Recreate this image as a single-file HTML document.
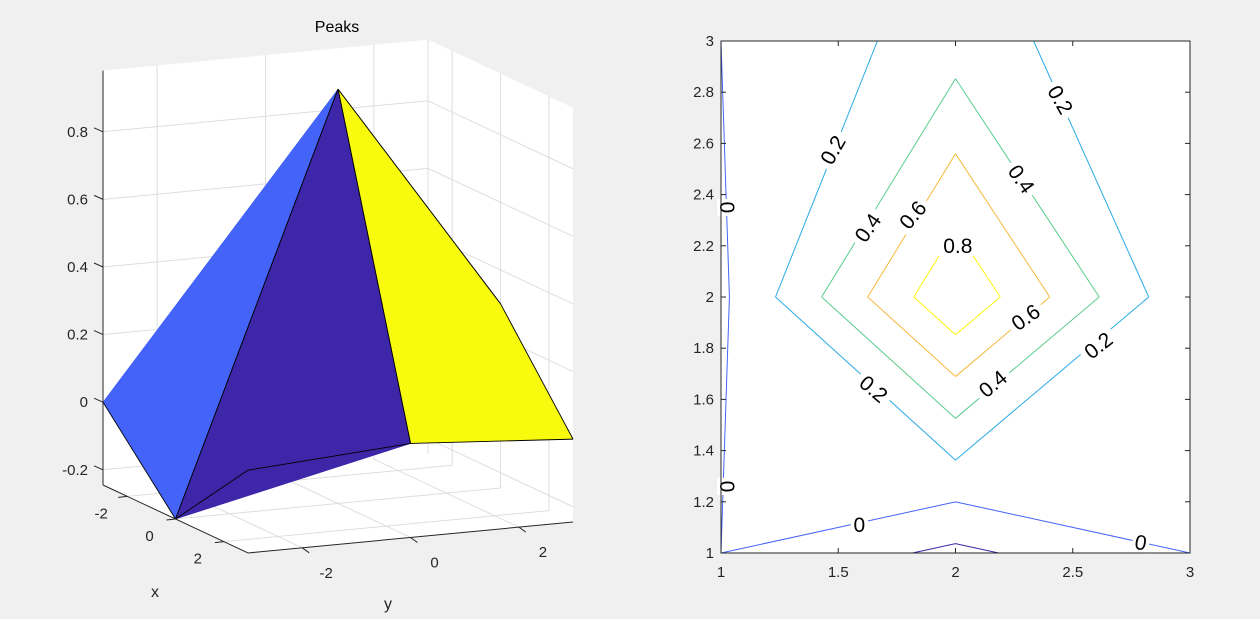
<!DOCTYPE html>
<html><head><meta charset="utf-8"><style>
html,body{margin:0;padding:0;background:#f0f0f0;}
svg{display:block;font-family:"Liberation Sans",sans-serif;}
</style></head><body>
<svg id="fig" width="1260" height="619" viewBox="0 0 1260 619" xmlns="http://www.w3.org/2000/svg">
<rect x="0" y="0" width="1260" height="619" fill="#f0f0f0"/>
<g id="left"></g>
<g id="right"></g>
</svg>
<script>
// ---- data ----
const gridX = [-3, 0, 3];
const gridY = [-3, 0, 3];
const zRowYm3 = [1.0e-4, -0.2450, -6e-6];
const zRowY0 = [-0.0365, 0.9810, 0.0331];
const zRowY3 = [3.2e-5, 0.2999, 4.1e-5];
const Z = [zRowYm3, zRowY0, zRowY3];
const xTicks3d = [-2, 0, 2];
const yTicks3d = [-2, 0, 2];
const zTicks3d = [-0.2, 0, 0.2, 0.4, 0.6, 0.8];
const zTickLabels = ["-0.2", "0", "0.2", "0.4", "0.6", "0.8"];
const contourLevels = [-0.2, 0, 0.2, 0.4, 0.6, 0.8];
const cxTicks = [1, 1.5, 2, 2.5, 3];
const cxTickLabels = ["1", "1.5", "2", "2.5", "3"];
const cyTicks = [1, 1.2, 1.4, 1.6, 1.8, 2, 2.2, 2.4, 2.6, 2.8, 3];
const cyTickLabels = ["1", "1.2", "1.4", "1.6", "1.8", "2", "2.2", "2.4", "2.6", "2.8", "3"];
const labelLevels = [0.2, 0.2, 0, 0.4, 0.6, 0.8, 0.4, 0.6, 0.2, 0.2, 0.4, 0, 0, 0];
const labelX = [1.478, 2.446, 1.026, 1.627, 1.819, 2.01, 2.28, 2.30, 2.61, 1.65, 2.16, 1.026, 1.59, 2.79];
const labelY = [2.574, 2.77, 2.35, 2.27, 2.32, 2.2, 2.46, 1.92, 1.81, 1.64, 1.66, 1.26, 1.11, 1.04];
const labelRot = [-60, 60, 90, -55, -50, 0, 55, -35, -38, 40, -40, 90, 0, 10];

const NS = "http://www.w3.org/2000/svg";
function mk(parent, tag, attrs, name) {
  const e = document.createElementNS(NS, tag);
  for (const k in attrs) e.setAttribute(k, attrs[k]);
  
  
  parent.appendChild(e);
  return e;
}
const stops = [[0, 62, 38, 168], [0.2, 68, 100, 249], [0.4, 40, 170, 230], [0.6, 90, 205, 140], [0.8, 245, 185, 60], [1, 249, 251, 14]];
function parula(f) {
  f = Math.max(0, Math.min(1, f));
  for (let i = 1; i < stops.length; i++) {
    if (f <= stops[i][0]) {
      const a = stops[i - 1], b = stops[i], t = (f - a[0]) / (b[0] - a[0]);
      return `rgb(${Math.round(a[1] + t * (b[1] - a[1]))},${Math.round(a[2] + t * (b[2] - a[2]))},${Math.round(a[3] + t * (b[3] - a[3]))})`;
    }
  }
  return 'rgb(249,251,14)';
}

// ---- 3D plot ----
const L = document.getElementById('left');
const allZ = Z.flat();
const zmin = Math.min(...allZ), zmax = Math.max(...allZ);
const zs = 338;
function P(x, y, z) {
  return [103 + (x + 3) * 24.17 + (y + 3) * 54.17, 485 + (x + 3) * 11.33 - (y + 3) * 5.17 - (z - zmin) * zs];
}
const X0 = -3, X1 = 3, Y0 = -3, Y1 = 3;
const pts = (arr) => arr.map(p => p.join(',')).join(' ');
mk(L, 'polygon', {points: pts([P(X0, Y0, zmax), P(X0, Y1, zmax), P(X1, Y1, zmax), P(X1, Y1, zmin), P(X1, Y0, zmin), P(X0, Y0, zmin)]), fill: '#fff'}, 'axes-background');
const gc = '#dedede';
function line(g, a, b, col, w, name) {
  mk(g, 'line', {x1: a[0], y1: a[1], x2: b[0], y2: b[1], stroke: col, 'stroke-width': w}, name);
}
xTicks3d.forEach(x => { line(L, P(x, Y0, zmin), P(x, Y1, zmin), gc, 1, 'floor-grid-x'); line(L, P(x, Y1, zmin), P(x, Y1, zmax), gc, 1, 'wall-grid-x'); });
yTicks3d.forEach(y => { line(L, P(X0, y, zmin), P(X1, y, zmin), gc, 1, 'floor-grid-y'); line(L, P(X0, y, zmin), P(X0, y, zmax), gc, 1, 'wall-grid-y'); });
zTicks3d.forEach(z => { line(L, P(X0, Y0, z), P(X0, Y1, z), gc, 1, 'wall-grid-z'); line(L, P(X0, Y1, z), P(X1, Y1, z), gc, 1, 'wall-grid-z'); });
line(L, P(X0, Y1, zmin), P(X0, Y1, zmax), gc, 1, 'back-edge');
const faces = [];
for (let j = 0; j < 2; j++) for (let i = 0; i < 2; i++) {
  faces.push({i, j, d: (gridX[i] + gridX[i + 1]) / 2 - (gridY[j] + gridY[j + 1]) / 2});
}
faces.sort((a, b) => a.d - b.d);
faces.forEach(f => {
  const {i, j} = f;
  const idx = [[i, j], [i + 1, j], [i + 1, j + 1], [i, j + 1]];
  const q = idx.map(([a, b]) => P(gridX[a], gridY[b], Z[b][a]));
  const col = parula((Z[j][i] - zmin) / (zmax - zmin));
  mk(L, 'polygon', {points: pts([q[0], q[2], q[3]]), fill: col, stroke: col, 'stroke-width': 0.5}, 'surface-face-tri');
  mk(L, 'polygon', {points: pts([q[0], q[1], q[2]]), fill: col, stroke: col, 'stroke-width': 0.5}, 'surface-face-tri');
  for (let e = 0; e < 4; e++) {
    const a = idx[e], b = idx[(e + 1) % 4];
    if ((a[0] === 0 && a[1] === 1) || (b[0] === 0 && b[1] === 1)) continue;
    line(L, q[e], q[(e + 1) % 4], '#000', 0.9, 'surface-edge');
  }
});
const ac = '#262626';
line(L, P(X0, Y0, zmin), P(X0, Y0, zmax), ac, 1, 'z-axis-line');
line(L, P(X0, Y0, zmin), P(X1, Y0, zmin), ac, 1, 'x-axis-line');
line(L, P(X1, Y0, zmin), P(X1, Y1, zmin), ac, 1, 'y-axis-line');
function text(g, x, y, s, anchor, size, name, col) {
  const t = mk(g, 'text', {x, y, 'text-anchor': anchor, 'font-size': size, fill: col || ac}, name);
  t.textContent = s;
  return t;
}
zTicks3d.forEach((z, k) => {
  const a = P(X0, Y0, z);
  line(L, a, [a[0] - 9, a[1] - 4], ac, 1, 'z-tick');
  text(L, a[0] - 15, a[1] + 5, zTickLabels[k], 'end', 15, 'z-tick-label');
});
xTicks3d.forEach(x => {
  const a = P(x, Y0, zmin);
  line(L, a, [a[0] - 9, a[1] + 1], ac, 1, 'x-tick');
  text(L, a[0] - 26, a[1] + 22, String(x), 'middle', 15, 'x-tick-label');
});
yTicks3d.forEach(y => {
  const a = P(X1, y, zmin);
  line(L, a, [a[0] + 7, a[1] + 5], ac, 1, 'y-tick');
  text(L, a[0] + 24, a[1] + 30, String(y), 'middle', 15, 'y-tick-label');
});
text(L, 155, 597, 'x', 'middle', 16, 'x-axis-title');
text(L, 388, 609, 'y', 'middle', 16, 'y-axis-title');
text(L, 337, 32, 'Peaks', 'middle', 16, 'chart-title', '#000');

// ---- contour plot ----
const R = document.getElementById('right');
const cx0 = 721, cx1 = 1190, cy0 = 553, cy1 = 41;
const sx = v => cx0 + (v - 1) / 2 * (cx1 - cx0);
const sy = v => cy0 - (v - 1) / 2 * (cy0 - cy1);
mk(R, 'rect', {x: cx0, y: cy1, width: cx1 - cx0, height: cy0 - cy1, fill: '#fff'}, 'plot-area');
const lvMin = Math.min(...contourLevels), lvMax = Math.max(...contourLevels);
contourLevels.forEach(lv => {
  const col = parula((lv - lvMin) / (lvMax - lvMin));
  let d = '';
  for (let j = 0; j < 2; j++) for (let i = 0; i < 2; i++) {
    const c = [[i, j], [i + 1, j], [i + 1, j + 1], [i, j + 1]];
    const cr = [];
    for (let e = 0; e < 4; e++) {
      const a = c[e], b = c[(e + 1) % 4];
      const za = Z[a[1]][a[0]], zb = Z[b[1]][b[0]];
      if ((za < lv) !== (zb < lv)) {
        const t = (lv - za) / (zb - za);
        cr.push([a[0] + t * (b[0] - a[0]) + 1, a[1] + t * (b[1] - a[1]) + 1]);
      }
    }
    for (let k = 0; k + 1 < cr.length; k += 2) {
      d += `M${sx(cr[k][0])},${sy(cr[k][1])}L${sx(cr[k + 1][0])},${sy(cr[k + 1][1])}`;
    }
  }
  if (d) mk(R, 'path', {d, fill: 'none', stroke: col, 'stroke-width': 1}, 'contour-line-' + String(lv).replace('.', 'p').replace('-', 'm'));
});
labelLevels.forEach((lv, k) => {
  const x = sx(labelX[k]), y = sy(labelY[k]);
  const s = String(lv);
  const w = s.length * 11 + 6;
  const g = mk(R, 'g', {transform: `translate(${x},${y}) rotate(${labelRot[k]})`}, 'contour-label');
  mk(g, 'rect', {x: -w / 2, y: -17, width: w, height: 27, fill: '#fff'}, 'contour-label-gap');
  const t = mk(g, 'text', {x: 0, y: 7, 'text-anchor': 'middle', 'font-size': 21, fill: '#000'}, 'contour-label-text');
  t.textContent = s;
});
mk(R, 'rect', {x: cx0, y: cy1, width: cx1 - cx0, height: cy0 - cy1, fill: 'none', stroke: ac, 'stroke-width': 1}, 'plot-frame');
cxTicks.forEach((v, k) => {
  const x = sx(v);
  line(R, [x, cy0], [x, cy0 - 5], ac, 1, 'x-tick');
  line(R, [x, cy1], [x, cy1 + 5], ac, 1, 'x-tick');
  text(R, x, cy0 + 24, cxTickLabels[k], 'middle', 15, 'x-tick-label');
});
cyTicks.forEach((v, k) => {
  const y = sy(v);
  line(R, [cx0, y], [cx0 + 5, y], ac, 1, 'y-tick');
  line(R, [cx1, y], [cx1 - 5, y], ac, 1, 'y-tick');
  text(R, cx0 - 7, y + 5, cyTickLabels[k], 'end', 15, 'y-tick-label');
});
</script>
</body></html>
